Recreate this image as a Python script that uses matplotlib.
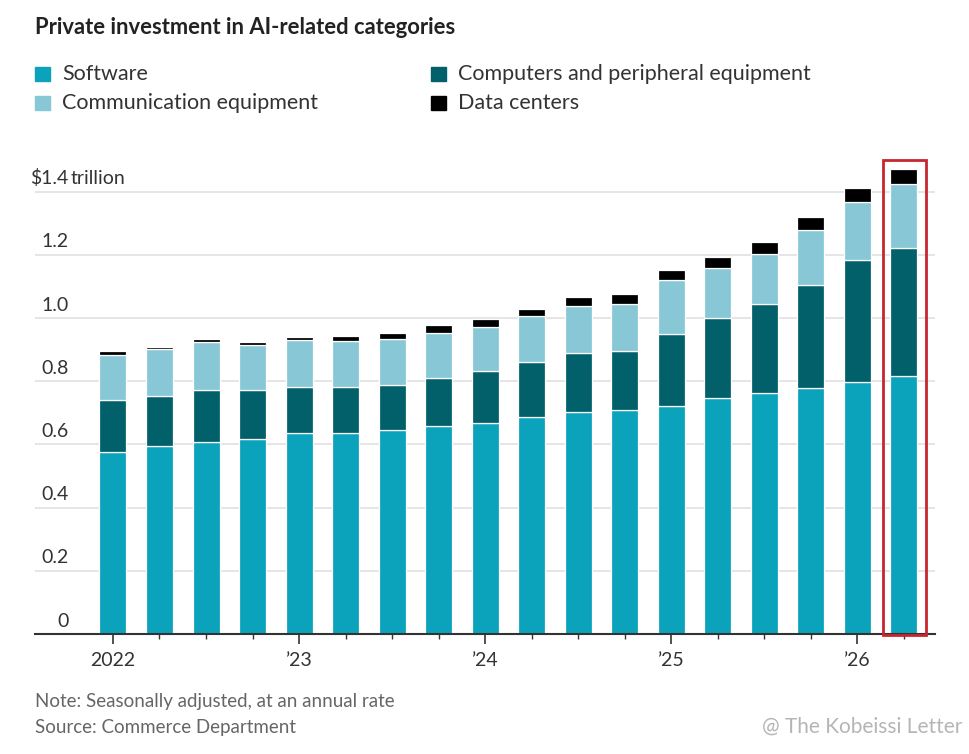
import matplotlib
matplotlib.use("Agg")
import matplotlib.pyplot as plt
from matplotlib.patches import Rectangle
import numpy as np

# quarterly, 2022 Q1 .. 2026 Q2, $ trillion (seasonally adjusted annual rate)
quarters = ["2022Q1", "2022Q2", "2022Q3", "2022Q4",
            "2023Q1", "2023Q2", "2023Q3", "2023Q4",
            "2024Q1", "2024Q2", "2024Q3", "2024Q4",
            "2025Q1", "2025Q2", "2025Q3", "2025Q4",
            "2026Q1", "2026Q2"]
software = [0.575, 0.595, 0.608, 0.618, 0.636, 0.636, 0.645, 0.659, 0.668,
            0.687, 0.702, 0.710, 0.723, 0.747, 0.764, 0.778, 0.796, 0.815]
computers = [0.164, 0.159, 0.165, 0.155, 0.146, 0.146, 0.142, 0.151, 0.165,
             0.174, 0.187, 0.184, 0.226, 0.252, 0.281, 0.327, 0.387, 0.405]
communication = [0.145, 0.149, 0.150, 0.140, 0.149, 0.144, 0.146, 0.144, 0.140,
                 0.144, 0.150, 0.150, 0.171, 0.158, 0.158, 0.175, 0.185, 0.203]
data_centers = [0.012, 0.006, 0.009, 0.010, 0.010, 0.017, 0.019, 0.025, 0.024,
                0.023, 0.027, 0.031, 0.033, 0.037, 0.038, 0.039, 0.043, 0.047]

series_names = ["Software", "Computers and peripheral equipment",
                "Communication equipment", "Data centers"]
colors = ["#0aa3bb", "#02606b", "#88c7d6", "#000000"]

year_labels = ["2022", "\u201923", "\u201924", "\u201925", "\u201926"]
ytick_vals = [0, 0.2, 0.4, 0.6, 0.8, 1.0, 1.2, 1.4]

plt.rcParams["font.family"] = ["Lato", "DejaVu Sans"]

W, H = 970, 754
fig = plt.figure(figsize=(W / 100, H / 100), dpi=100)

def fx(px):
    return px / W

def fy(py):
    return 1 - py / H

# axes: x 35..935 px, y 160..634 px
ax = fig.add_axes([fx(35), fy(634), fx(935) - fx(35), fy(160) - fy(634)])

x = np.arange(len(quarters))
stack = [software, computers, communication, data_centers]
bottom = np.zeros(len(x))
for vals, c in zip(stack, colors):
    ax.bar(x, vals, bottom=bottom, width=0.58, color=c,
           edgecolor="white", linewidth=0.9, zorder=3)
    bottom += np.array(vals)

ax.set_xlim(-1.676, 17.67)
ax.set_ylim(0, 1.5)

for v in ytick_vals[1:]:
    ax.axhline(v, color="#e3e3e3", linewidth=1.3, zorder=1)

# y labels sit above the gridlines, right aligned
for v in ytick_vals:
    lab = "$1.4" if v == 1.4 else ("0" if v == 0 else f"{v:.1f}")
    ax.text(0.037, v + 0.014, lab, transform=ax.get_yaxis_transform(),
            ha="right", va="bottom", fontsize=14, color="#333333")
ax.text(0.040, 1.4 + 0.014, "trillion", transform=ax.get_yaxis_transform(),
        ha="left", va="bottom", fontsize=14, color="#333333")

ax.set_yticks([])
ax.set_xticks(x[::4])
ax.set_xticklabels(year_labels, fontsize=14, color="#333333")
ax.set_xticks(x, minor=True)
ax.tick_params(axis="x", which="major", length=7, width=1.2, color="#333333", pad=6)
ax.tick_params(axis="x", which="minor", length=3.5, width=1.0, color="#333333")
for s in ["top", "right", "left"]:
    ax.spines[s].set_visible(False)
ax.spines["bottom"].set_color("#333333")
ax.spines["bottom"].set_linewidth(1.5)
ax.spines["bottom"].set_zorder(4)

# highlight box on the latest quarter
ax.add_patch(Rectangle((x[-1] - 0.45, -0.003), 0.92, 1.503, fill=False,
                       edgecolor="#c8262f", linewidth=2.0, zorder=5, clip_on=False))

# title
fig.text(fx(35), fy(27), "Private investment in AI-related categories",
         fontsize=15.8, fontweight="bold", color="#222222", ha="left", va="center")

# legend
legend_pos = [(35, 74), (431, 74), (35, 103), (431, 103)]
for (lx, ly), i in zip(legend_pos, [0, 1, 2, 3]):
    c = colors[i]
    fig.patches.append(Rectangle((fx(lx), fy(ly + 7)), fx(15), 14 / H,
                                 transform=fig.transFigure, color=c))
    fig.text(fx(lx + 27), fy(ly), series_names[i], fontsize=15.5,
             color="#333333", ha="left", va="center")

# footnotes
fig.text(fx(35), fy(702), "Note: Seasonally adjusted, at an annual rate",
         fontsize=13.5, color="#666666", ha="left", va="center")
fig.text(fx(35), fy(727), "Source: Commerce Department",
         fontsize=13.5, color="#666666", ha="left", va="center")
fig.text(fx(962), fy(727), "@ The Kobeissi Letter",
         fontsize=15, color="#b5b5b5", ha="right", va="center")

fig.savefig("out.png", dpi=100)
